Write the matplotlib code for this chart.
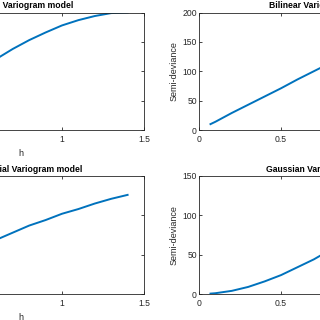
import matplotlib
matplotlib.use('Agg')
import matplotlib.pyplot as plt

plt.rcParams['font.family'] = ['Liberation Sans', 'DejaVu Sans']

# lag distance h
h = [0.07, 0.1, 0.2, 0.3, 0.4, 0.5, 0.6, 0.7, 0.8, 0.9, 1.0, 1.1, 1.2, 1.3, 1.4]

# semi-deviance
spherical = [15, 21, 43, 63, 83, 103, 121, 138, 153, 166, 178, 187, 194, 199, 200]
bilinear = [10, 14, 29, 43, 57, 71, 86, 100, 114, 129, 143, 157, 171, 186, 200]
exponential = [10, 14, 26, 38, 49, 60, 69, 78, 87, 94, 102, 108, 115, 121, 126]
gaussian = [0.5, 1, 4, 9, 16, 24, 34, 44, 56, 68, 80, 92, 104, 116, 126]

titles = ['Spherical Variogram model', 'Bilinear Variogram model',
          'Exponential Variogram model', 'Gaussian Variogram model']
series = [spherical, bilinear, exponential, gaussian]
ymax = [200, 200, 150, 150]
yticks = [[0, 50, 100, 150, 200], [0, 50, 100, 150, 200],
          [0, 50, 100, 150], [0, 50, 100, 150]]
xticks = [0, 0.5, 1, 1.5]
xticklabels = ['0', '0.5', '1', '1.5']

W = 320.0
# axes boxes in pixels: left, top, right, bottom (figure is a crop of a wider one)
boxes = [(-102, 12.5, 144, 130), (199, 12.5, 445, 130),
         (-102, 176, 144, 294), (199, 176, 445, 294)]
title_x = [0.484, 0.5, 0.5, 0.5]

fig = plt.figure(figsize=(3.2, 3.2), dpi=100)
dark = '#262626'

for box, title, tx, y, top, yt in zip(boxes, titles, title_x, series, ymax, yticks):
    l, t, r, b = box
    ax = fig.add_axes([l / W, 1 - b / W, (r - l) / W, (b - t) / W])
    ax.plot(h, y, color='#0072BD', linewidth=1.4)
    ax.set_xlim(0, 1.5)
    ax.set_ylim(0, top)
    ax.set_xticks(xticks)
    ax.set_xticklabels(xticklabels)
    ax.set_yticks(yt)
    ax.tick_params(direction='in', top=True, right=True, length=2, width=0.6,
                   color=dark, labelcolor=dark, labelsize=6.2)
    ax.tick_params(axis='x', pad=3.3)
    ax.tick_params(axis='y', pad=1.5)
    for s in ax.spines.values():
        s.set_color(dark)
        s.set_linewidth(0.6)
    ax.set_title(title, fontsize=6.2, fontweight='bold', pad=3, x=tx)
    ax.set_xlabel('h', fontsize=6.5, color=dark, labelpad=4)
    ax.set_ylabel('Semi-deviance', fontsize=6.5, color=dark, labelpad=2.5)

fig.savefig('out.png', dpi=100)
